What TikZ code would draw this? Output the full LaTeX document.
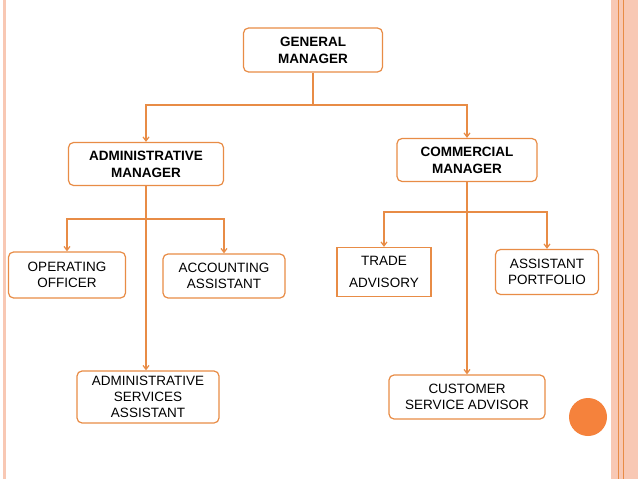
\documentclass[tikz,border=0pt]{standalone}
\usepackage{fontspec}
\setmainfont{Liberation Sans}
\usetikzlibrary{arrows.meta}
\definecolor{org}{RGB}{232,140,70}
\definecolor{peach}{RGB}{248,200,180}
\definecolor{dot}{RGB}{245,130,60}
\tikzset{
 box/.style={draw=org,line width=1.2pt,rounded corners=5pt,align=center,font=\fontsize{13.5}{16}\selectfont,inner sep=0pt},
 bbox/.style={box,font=\fontsize{13.5}{17}\selectfont\bfseries},
 con/.style={draw=org,line width=1.2pt},
 arr/.style={con,-{Straight Barb[length=4pt,width=6pt]}}
}
\begin{document}
\begin{tikzpicture}[x=1pt,y=-1pt]
\useasboundingbox (0,0) rectangle (638,479);
\fill[white] (0,0) rectangle (638,479);
\fill[peach] (3,0) rectangle (6,479);
\fill[peach] (611,0) rectangle (638,479);
\draw[org,line width=0.8pt] (618,0) -- (618,479);
\draw[org,line width=0.8pt] (623,0) -- (623,479);
\fill[dot] (588,417) circle (19);
\node[bbox,minimum width=139,minimum height=44] (gm) at (313,50) {GENERAL\\MANAGER};
\node[bbox,minimum width=155,minimum height=43] (am) at (146,164) {ADMINISTRATIVE\\MANAGER};
\node[bbox,minimum width=140,minimum height=43] (cm) at (467,160) {COMMERCIAL\\MANAGER};
\node[box,minimum width=117,minimum height=46] (oo) at (67,275) {OPERATING\\OFFICER};
\node[box,minimum width=122,minimum height=44] (aa) at (224,276) {ACCOUNTING\\ASSISTANT};
\node[box,rounded corners=0pt,minimum width=94,minimum height=49,font=\fontsize{13.5}{22}\selectfont] (ta) at (384,272) {TRADE\\ADVISORY};
\node[box,minimum width=103,minimum height=45] (ap) at (547,272) {ASSISTANT\\PORTFOLIO};
\node[box,minimum width=142,minimum height=52] (as) at (148,397) {ADMINISTRATIVE\\SERVICES\\ASSISTANT};
\node[box,minimum width=156,minimum height=44] (cs) at (467,397) {CUSTOMER\\SERVICE ADVISOR};
\coordinate (j1) at (313,105);
\draw[con] (gm.south) -- (j1);
\draw[arr] (j1) -| (am.north);
\draw[arr] (j1) -| (cm.north);
\coordinate (j2) at (146,219);
\draw[con] (am.south) -- (j2);
\draw[arr] (j2) -| (oo.north);
\draw[arr] (j2) -| (aa.north);
\draw[arr] (j2) -- (j2 |- as.north);
\coordinate (j3) at (467,212);
\draw[con] (cm.south) -- (j3);
\draw[arr] (j3) -| (ta.north);
\draw[arr] (j3) -| (ap.north);
\draw[arr] (j3) -- (cs.north);
\end{tikzpicture}
\end{document}
